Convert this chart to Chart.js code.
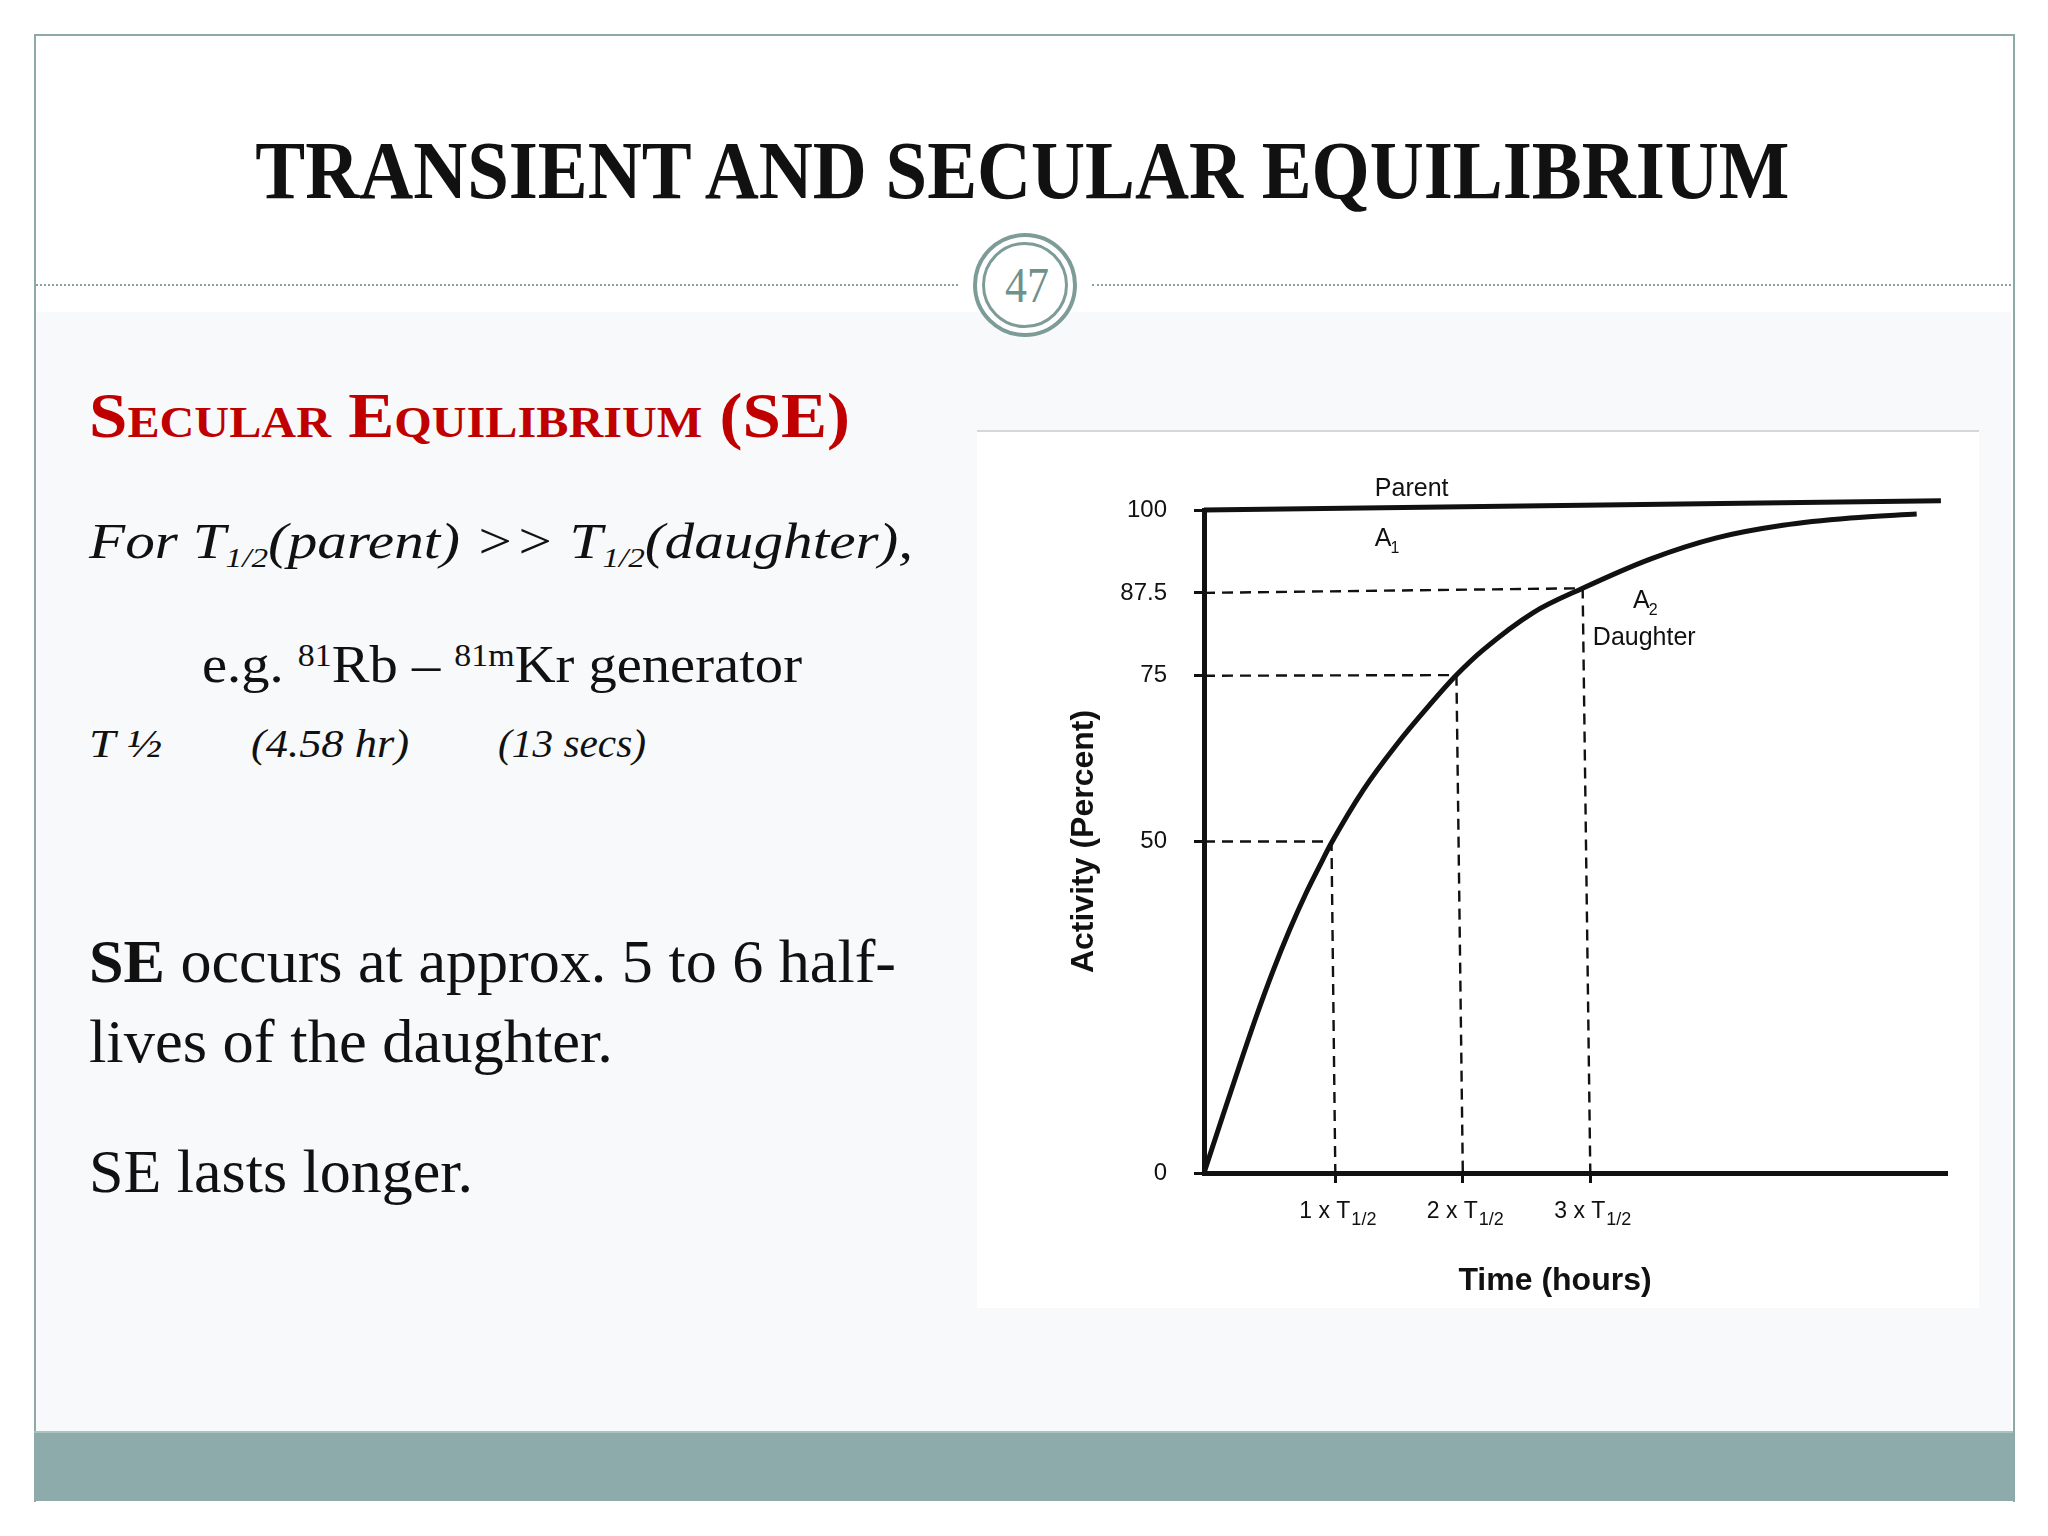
<!DOCTYPE html>
<html>
<head>
<meta charset="utf-8">
<script src="https://cdn.jsdelivr.net/npm/chart.js@4.4.1/dist/chart.umd.min.js"></script>
<style>
  html, body { margin: 0; padding: 0; background: #fff; }
  body { width: 2048px; height: 1536px; position: relative; overflow: hidden; }
  .abs { position: absolute; }
  .frame { left: 34px; top: 34px; width: 1977px; height: 1466px; border: 2px solid #8eaaa7; border-bottom: none; }
  .panel { left: 36px; top: 312px; width: 1975px; height: 1119px; background: #f8f9fb; }
  .bar { left: 34px; top: 1431px; width: 1979px; height: 70px; background: #8dabab; border-top: 2px solid #a9c3c1; box-sizing: border-box; }
  .dash { top: 284px; height: 0; border-top: 2px dotted #86a39f; }
  .ring { border-radius: 50%; box-sizing: border-box; }
  .txt { white-space: nowrap; font-family: "Liberation Serif", "DejaVu Serif", serif; color: #111; line-height: 1; }
  .txt sub { font-size: 0.56em; vertical-align: -0.32em; }
  .txt sup { font-size: 0.6em; vertical-align: 0.52em; }
  .chartbox { left: 977px; top: 430px; width: 1002px; height: 876px; background: #fff; border-top: 2px solid #d6d7d8; }
  #chart { position: absolute; left: 977px; top: 435px; }
</style>
</head>
<body>
<div class="abs frame"></div>
<div class="abs panel"></div>
<div class="abs bar"></div>
<div class="abs dash" style="left:36px;width:922px"></div>
<div class="abs dash" style="left:1092px;width:919px"></div>
<div class="abs ring" style="left:973px;top:233px;width:104px;height:104px;border:4px solid #7e9c97;background:#fff"></div>
<div class="abs ring" style="left:982px;top:242px;width:86px;height:86px;border:3px solid #7e9c97"></div>

<div class="abs txt" data-x="1022" data-b="198" data-w="1534" data-c="1" style="font-size:83px;font-weight:bold">TRANSIENT AND SECULAR EQUILIBRIUM</div>
<div class="abs txt" data-x="1027" data-b="302" data-w="44" data-c="1" style="font-size:50px;color:#6f918b">47</div>
<div class="abs txt" data-x="89" data-b="437" data-w="761" style="font-size:63px;font-weight:bold;font-variant:small-caps;color:#c00000">Secular Equilibrium (SE)</div>
<div class="abs txt" data-x="89" data-b="558" data-w="824" style="font-size:50px;font-style:italic">For T<sub>1/2</sub>(parent) &gt;&gt; T<sub>1/2</sub>(daughter),</div>
<div class="abs txt" data-x="202" data-b="682" data-w="600" style="font-size:52px">e.g. <sup>81</sup>Rb – <sup>81m</sup>Kr generator</div>
<div class="abs txt" data-x="89" data-b="757" data-w="73" style="font-size:40px;font-style:italic">T ½</div>
<div class="abs txt" data-x="251" data-b="757" data-w="158" style="font-size:40px;font-style:italic">(4.58 hr)</div>
<div class="abs txt" data-x="498" data-b="757" data-w="148" style="font-size:40px;font-style:italic">(13 secs)</div>
<div class="abs txt" data-x="89" data-b="982" data-w="807" style="font-size:62px"><b>SE</b> occurs at approx. 5 to 6 half-</div>
<div class="abs txt" data-x="89" data-b="1062" data-w="524" style="font-size:62px">lives of the daughter.</div>
<div class="abs txt" data-x="89" data-b="1192" data-w="384" style="font-size:62px">SE lasts longer.</div>

<div class="abs chartbox"></div>
<canvas id="chart" width="1002" height="871" style="width:1002px;height:871px"></canvas>

<script>
// time in half-lives of the daughter, activity in percent
const parentTime = [-0.03, 5.75];
const parentValue = [100, 101.4];

const daughterTime = [-0.03, 0.12, 0.25, 0.38, 0.51, 0.64, 0.77, 0.9, 0.97, 1.22, 1.48, 1.74, 1.95, 2.16, 2.55, 2.94, 3.47, 3.99, 4.51, 5.04, 5.56];
const daughterValue = [0, 8.8, 16.3, 23.6, 30.4, 36.6, 42.2, 47.2, 49.8, 57.8, 64.6, 70.6, 75.1, 78.9, 84.5, 88.2, 92.6, 95.8, 97.7, 98.8, 99.4];

// dashed read-off lines: level on the y axis, where it meets the curve, foot on the x axis
const guideLevel = [50, 75, 87.5];
const guideMeetTime = [0.97, 1.95, 2.94];
const guideMeetValue = [50, 75.1, 88.2];
const guideFootTime = [1, 2, 3];

const yTickValues = [0, 50, 75, 87.5, 100];
const yTickLabels = ["0", "50", "75", "87.5", "100"];
const xTickValues = [1, 2, 3];
const xTickLabels = ["1 x T", "2 x T", "3 x T"];
const xTickSub = "1/2";

const noteText = ["Parent", "A", "A", "Daughter"];
const noteSub = ["", "1", "2", ""];
const noteTime = [1.31, 1.31, 3.335, 3.02];
const noteValue = [102.1, 94.6, 85.2, 79.6];

const INK = "#111";
const SANS = '"Liberation Sans", Arial, Helvetica, sans-serif';

const pts = (xs, ys) => xs.map((x, i) => ({ x, y: ys[i] }));

const guideSets = guideLevel.map((lv, i) => ({
  data: [
    { x: parentTime[0], y: lv },
    { x: guideMeetTime[i], y: guideMeetValue[i] },
    { x: guideFootTime[i], y: 0 },
  ],
  borderColor: INK,
  borderWidth: 2.4,
  borderDash: [11, 7],
  pointRadius: 0,
  tension: 0,
  clip: false,
}));

const textPlugin = {
  id: "chartText",
  afterDraw(chart) {
    const { ctx, chartArea: a, scales } = chart;
    const x = scales.x, y = scales.y;
    ctx.save();
    ctx.fillStyle = INK;

    // y tick labels
    ctx.font = "24px " + SANS;
    ctx.textAlign = "right";
    ctx.textBaseline = "middle";
    yTickValues.forEach((v, i) => ctx.fillText(yTickLabels[i], a.left - 37, y.getPixelForValue(v)));

    // x tick labels with subscript
    ctx.textAlign = "left";
    ctx.textBaseline = "alphabetic";
    xTickValues.forEach((v, i) => {
      ctx.font = "23px " + SANS;
      const w1 = ctx.measureText(xTickLabels[i]).width;
      ctx.font = "18px " + SANS;
      const w2 = ctx.measureText(xTickSub).width;
      const left = x.getPixelForValue(v) + 2 - (w1 + w2) / 2;
      const base = a.bottom + 45;
      ctx.font = "23px " + SANS;
      ctx.fillText(xTickLabels[i], left, base);
      ctx.font = "18px " + SANS;
      ctx.fillText(xTickSub, left + w1 + 1, base + 7);
    });

    // notes on the curves
    noteText.forEach((t, i) => {
      const px = x.getPixelForValue(noteTime[i]);
      const py = y.getPixelForValue(noteValue[i]);
      ctx.font = "25px " + SANS;
      ctx.fillText(t, px, py);
      if (noteSub[i]) {
        const w = ctx.measureText(t).width;
        ctx.font = "16px " + SANS;
        ctx.fillText(noteSub[i], px + w - 1, py + 7);
      }
    });

    // axis titles
    ctx.font = "bold 32px " + SANS;
    ctx.textAlign = "center";
    ctx.fillText("Time (hours)", a.left + 351, a.bottom + 117);
    ctx.translate(a.left - 120, (a.top + a.bottom) / 2);
    ctx.rotate(-Math.PI / 2);
    ctx.textBaseline = "middle";
    ctx.fillText("Activity (Percent)", 0, 0);
    ctx.restore();
  },
};

const axisStyle = (ticks) => ({
  type: "linear",
  afterBuildTicks: (s) => { s.ticks = ticks.map((v) => ({ value: v })); },
  ticks: { display: false },
  grid: { display: true, drawOnChartArea: false, drawTicks: true, tickLength: 10, color: INK, lineWidth: 3 },
  border: { display: true, color: INK, width: 5 },
});

new Chart(document.getElementById("chart"), {
  type: "line",
  data: {
    datasets: [
      {
        data: pts(parentTime, parentValue),
        borderColor: INK,
        borderWidth: 5,
        pointRadius: 0,
        tension: 0,
        clip: false,
      },
      {
        data: pts(daughterTime, daughterValue),
        borderColor: INK,
        borderWidth: 5,
        pointRadius: 0,
        cubicInterpolationMode: "monotone",
        clip: false,
      },
      ...guideSets,
    ],
  },
  options: {
    responsive: false,
    animation: false,
    devicePixelRatio: 1,
    layout: { autoPadding: false, padding: { left: 217, top: 75, right: 33, bottom: 123 } },
    plugins: { legend: { display: false }, tooltip: { enabled: false } },
    scales: {
      x: { ...axisStyle(xTickValues), min: -0.03, max: 5.79 },
      y: { ...axisStyle(yTickValues), min: 0, max: 100 },
    },
  },
  plugins: [textPlugin],
});

// place slide text on its baseline and fit to the measured widths
function placeText() {
  document.querySelectorAll(".txt").forEach((el) => {
    const mark = document.createElement("span");
    mark.style.cssText = "display:inline-block;width:0;height:0;vertical-align:baseline";
    el.insertBefore(mark, el.firstChild);
    el.style.left = "0px";
    el.style.top = "0px";
    const box = el.getBoundingClientRect();
    const base = mark.getBoundingClientRect().bottom - box.top;
    const k = +el.dataset.w / box.width;
    const centred = el.dataset.c === "1";
    el.style.top = (+el.dataset.b - base) + "px";
    el.style.left = (centred ? +el.dataset.x - box.width / 2 : +el.dataset.x) + "px";
    el.style.transformOrigin = centred ? "50% 50%" : "0 50%";
    el.style.transform = "scaleX(" + k.toFixed(4) + ")";
  });
}
if (document.fonts && document.fonts.ready) document.fonts.ready.then(placeText);
else placeText();
</script>
</body>
</html>
